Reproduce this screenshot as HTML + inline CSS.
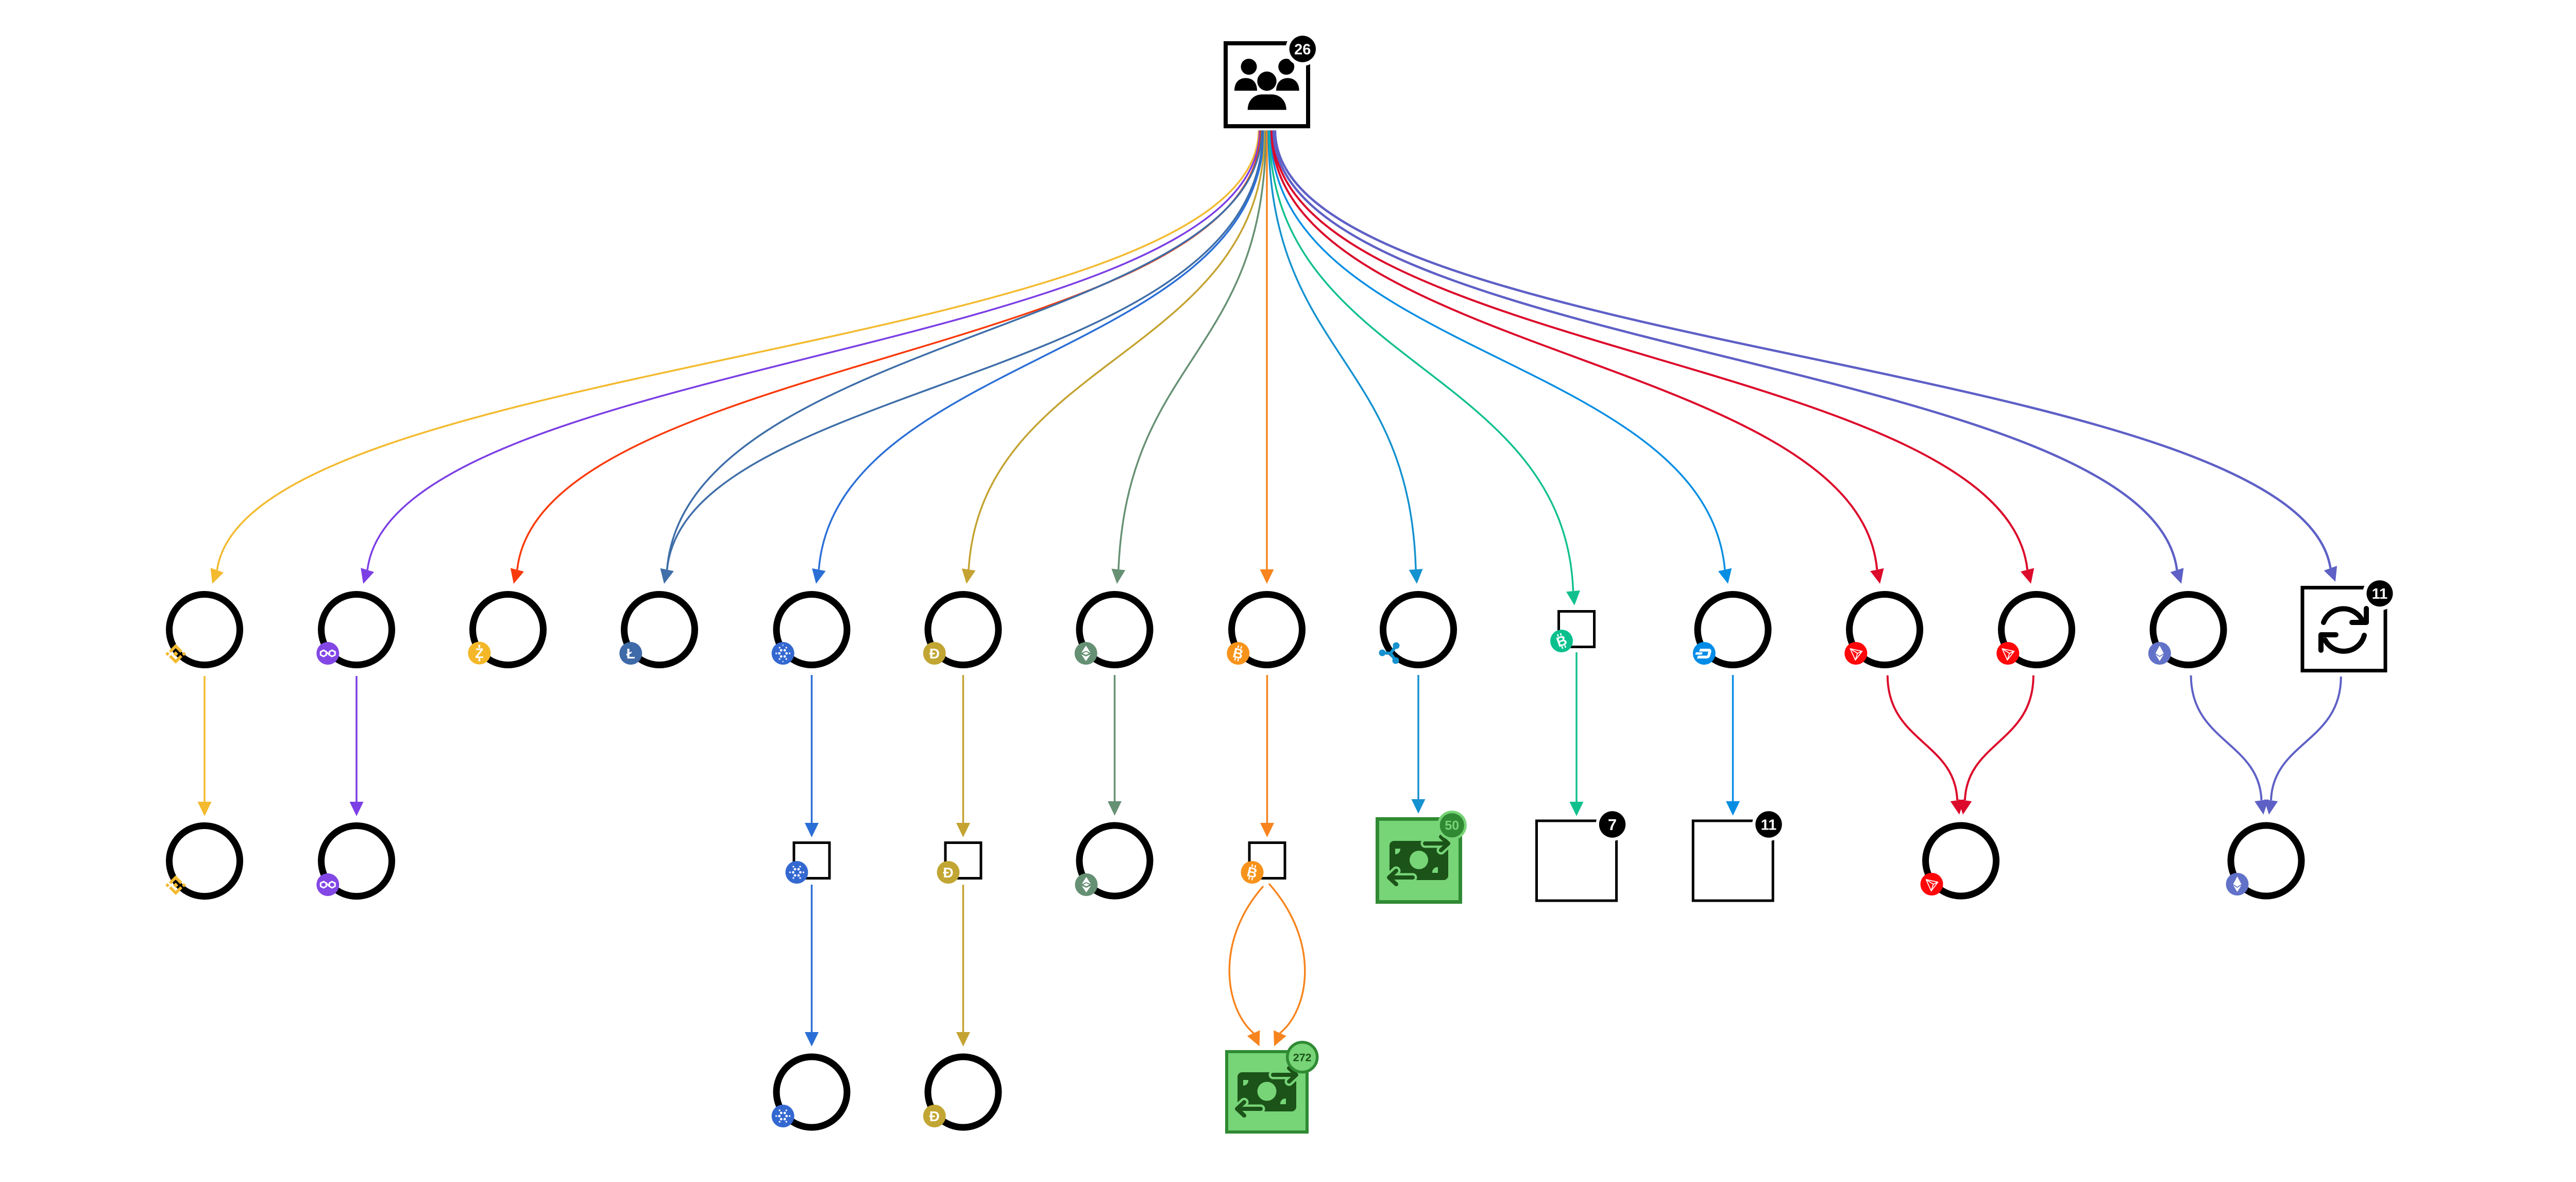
<!DOCTYPE html>
<html><head><meta charset="utf-8"><style>
html,body{margin:0;padding:0;background:#fff;overflow:hidden}
svg{display:block}
text{font-family:"Liberation Sans",Arial,sans-serif;font-weight:bold}
</style></head><body>
<svg width="5134" height="2294" viewBox="0 0 5134 2294" xmlns="http://www.w3.org/2000/svg">
<rect width="5134" height="2294" fill="#fff"/>

<!-- ===== Top fan-out edges ===== -->
<g fill="none" stroke-width="3.5">
<path d="M2443,253 C2443,690 481,690 421.3,1106.6" stroke="#F3BA2F"/>
<path d="M2445,253 C2445,690 765,690 713.1,1106.2" stroke="#7B3FE4"/>
<path d="M2447,253 C2447,690 1048,690 1003.9,1105.9" stroke="#F93A0A"/>
<path d="M2449,253 C2449,640 1331,650 1294.7,1105.6" stroke="#3F6EA8"/>
<path d="M2451,253 C2451,745 1331,735 1294.7,1105.6" stroke="#3F6EA8"/>
<path d="M2453,253 C2453,690 1623,690 1589.3,1105.5" stroke="#2B6FD6"/>
<path d="M2455,253 C2455,690 1906,690 1880.1,1105.3" stroke="#C4A332"/>
<path d="M2457,253 C2457,690 2189,690 2170.9,1105.1" stroke="#679174"/>
<path d="M2459,253 V1105" stroke="#F7841E"/>
<path d="M2462,253 C2462,690 2736,690 2748.1,1105.1" stroke="#1592CF"/>
<path d="M2464,253 C2464,710 3037,710 3053.5,1147.1" stroke="#12C08E"/>
<path d="M2466,253 C2466,690 3310,690 3348,1105.6" stroke="#078EE3"/>
<path d="M2468,253 C2468,690 3607,690 3643.3,1105.6" stroke="#DC0A2B" stroke-width="4"/>
<path d="M2470,253 C2470,690 3891,690 3935.1,1105.9" stroke="#DC0A2B" stroke-width="4"/>
<path d="M2472,253 C2472,690 4172,690 4225.5,1106.3" stroke="#5E60C6" stroke-width="4.5"/>
<path d="M2475,253 C2475,690 4458,690 4523.4,1102.7" stroke="#5E60C6" stroke-width="4.5"/>
</g>
<g>
<polygon points="-13.5,-28 13.5,-28 0,0" fill="#F3BA2F" transform="translate(412,1133) rotate(19.5)"/>
<polygon points="-13.5,-28 13.5,-28 0,0" fill="#7B3FE4" transform="translate(705,1133) rotate(16.9)"/>
<polygon points="-13.5,-28 13.5,-28 0,0" fill="#F93A0A" transform="translate(997,1133) rotate(14.3)"/>
<polygon points="-13.5,-28 13.5,-28 0,0" fill="#3F6EA8" transform="translate(1289,1133) rotate(11.7)"/>
<polygon points="-13.5,-28 13.5,-28 0,0" fill="#2B6FD6" transform="translate(1584,1133) rotate(11)"/>
<polygon points="-13.5,-28 13.5,-28 0,0" fill="#C4A332" transform="translate(1876,1133) rotate(8.5)"/>
<polygon points="-13.5,-28 13.5,-28 0,0" fill="#679174" transform="translate(2168,1133) rotate(5.9)"/>
<polygon points="-13.5,-28 13.5,-28 0,0" fill="#F7841E" transform="translate(2459,1133)"/>
<polygon points="-13.5,-28 13.5,-28 0,0" fill="#1592CF" transform="translate(2750,1133) rotate(-3.9)"/>
<polygon points="-13.5,-28 13.5,-28 0,0" fill="#12C08E" transform="translate(3056,1175) rotate(-5.2)"/>
<polygon points="-13.5,-28 13.5,-28 0,0" fill="#078EE3" transform="translate(3354,1133) rotate(-12.4)"/>
<polygon points="-13.5,-28 13.5,-28 0,0" fill="#DC0A2B" transform="translate(3649,1133) rotate(-11.7)"/>
<polygon points="-13.5,-28 13.5,-28 0,0" fill="#DC0A2B" transform="translate(3942,1133) rotate(-14.3)"/>
<polygon points="-13.5,-28 13.5,-28 0,0" fill="#5E60C6" transform="translate(4234,1133) rotate(-17.6)"/>
<polygon points="-13.5,-28 13.5,-28 0,0" fill="#5E60C6" transform="translate(4533,1129) rotate(-20)"/>
</g>

<!-- ===== Lower edges ===== -->
<g fill="none" stroke-width="3.5">
<path d="M397,1312 V1557" stroke="#F3BA2F"/>
<path d="M692,1312 V1557" stroke="#7B3FE4"/>
<path d="M1575.5,1310 V1598" stroke="#2B6FD6"/>
<path d="M1575.5,1717 V2004" stroke="#2B6FD6"/>
<path d="M1869.5,1310 V1598" stroke="#C4A332"/>
<path d="M1869.5,1717 V2004" stroke="#C4A332"/>
<path d="M2163.5,1310 V1556" stroke="#679174"/>
<path d="M2459.5,1310 V1598" stroke="#F7841E"/>
<path d="M2753,1310 V1552" stroke="#1592CF"/>
<path d="M3060,1266 V1557" stroke="#12C08E"/>
<path d="M3363.5,1310 V1556" stroke="#078EE3"/>
<path d="M2452,1720 C2355,1830 2380,1960 2433.1,2005" stroke="#F7841E"/>
<path d="M2463,1715 C2565,1830 2540,1960 2484.4,2005" stroke="#F7841E"/>
<path d="M3663.7,1310.7 C3664,1440 3795,1440 3799,1553" stroke="#DC0A2B" stroke-width="4"/>
<path d="M3946.8,1310.7 C3947,1440 3818,1440 3813.9,1553" stroke="#DC0A2B" stroke-width="4"/>
<path d="M4252.6,1310.7 C4253,1440 4385,1440 4389.5,1553" stroke="#5E60C6" stroke-width="4"/>
<path d="M4543.8,1313 C4544,1440 4412,1440 4408,1553" stroke="#5E60C6" stroke-width="4"/>
</g>
<g>
<polygon points="-13.5,-28 13.5,-28 0,0" fill="#F3BA2F" transform="translate(397,1584)"/>
<polygon points="-13.5,-28 13.5,-28 0,0" fill="#7B3FE4" transform="translate(692,1584)"/>
<polygon points="-13.5,-28 13.5,-28 0,0" fill="#2B6FD6" transform="translate(1575.5,1625)"/>
<polygon points="-13.5,-28 13.5,-28 0,0" fill="#2B6FD6" transform="translate(1575.5,2031)"/>
<polygon points="-13.5,-28 13.5,-28 0,0" fill="#C4A332" transform="translate(1869.5,1625)"/>
<polygon points="-13.5,-28 13.5,-28 0,0" fill="#C4A332" transform="translate(1869.5,2031)"/>
<polygon points="-13.5,-28 13.5,-28 0,0" fill="#679174" transform="translate(2163.5,1583)"/>
<polygon points="-13.5,-28 13.5,-28 0,0" fill="#F7841E" transform="translate(2459.5,1625)"/>
<polygon points="-13.5,-28 13.5,-28 0,0" fill="#1592CF" transform="translate(2753,1579)"/>
<polygon points="-13.5,-28 13.5,-28 0,0" fill="#12C08E" transform="translate(3060,1584)"/>
<polygon points="-13.5,-28 13.5,-28 0,0" fill="#078EE3" transform="translate(3363.5,1583)"/>
<polygon points="-13.5,-28 13.5,-28 0,0" fill="#F7841E" transform="translate(2444.5,2030.6) rotate(-24)"/>
<polygon points="-13.5,-28 13.5,-28 0,0" fill="#F7841E" transform="translate(2473,2030.6) rotate(24)"/>
<polygon points="-13.5,-28 13.5,-28 0,0" fill="#DC0A2B" transform="translate(3803,1581) rotate(-8)"/>
<polygon points="-13.5,-28 13.5,-28 0,0" fill="#DC0A2B" transform="translate(3810,1581) rotate(8)"/>
<polygon points="-13.5,-28 13.5,-28 0,0" fill="#5E60C6" transform="translate(4393.4,1581) rotate(-8)"/>
<polygon points="-13.5,-28 13.5,-28 0,0" fill="#5E60C6" transform="translate(4404,1581) rotate(8)"/>
</g>

<!-- ===== Top node ===== -->
<rect x="2379" y="84" width="160" height="161" fill="#fff" stroke="#000" stroke-width="8"/>
<g fill="#000">
<circle cx="2424" cy="129.5" r="15.5"/>
<path d="M2396,176 C2396,161 2404,151.5 2418,151.5 C2432,151.5 2440,161 2440,176 Z"/>
<circle cx="2496.7" cy="129.5" r="15.5"/>
<path d="M2477,176 C2477,161 2486,151.5 2499.5,151.5 C2513,151.5 2521.7,161 2521.7,176 Z"/>
<circle cx="2459" cy="157.5" r="18.7" stroke="#fff" stroke-width="5" paint-order="stroke"/>
<path d="M2421.7,213.3 C2421.7,196 2433,183.3 2450,183.3 H2468 C2485,183.3 2496.7,196 2496.7,213.3 Z" stroke="#fff" stroke-width="5" paint-order="stroke"/>
</g>
<circle cx="2528.3" cy="95" r="33" fill="#fff"/>
<circle cx="2528.3" cy="95" r="25.7" fill="#000"/>
<text x="2528.3" y="105.5" font-size="29" fill="#fff" text-anchor="middle">26</text>

<!-- ===== Circle nodes ===== -->
<g fill="none" stroke="#000" stroke-width="13">
<circle cx="397" cy="1222" r="68.5"/>
<circle cx="692" cy="1222" r="68.5"/>
<circle cx="986" cy="1222" r="68.5"/>
<circle cx="1280" cy="1222" r="68.5"/>
<circle cx="1575.5" cy="1222" r="68.5"/>
<circle cx="1869.5" cy="1222" r="68.5"/>
<circle cx="2163.5" cy="1222" r="68.5"/>
<circle cx="2459" cy="1222" r="68.5"/>
<circle cx="2753" cy="1222" r="68.5"/>
<circle cx="3363.5" cy="1222" r="68.5"/>
<circle cx="3658" cy="1222" r="68.5"/>
<circle cx="3953" cy="1222" r="68.5"/>
<circle cx="4247.5" cy="1222" r="68.5"/>
<circle cx="397" cy="1671" r="68.5"/>
<circle cx="692" cy="1671" r="68.5"/>
<circle cx="2163.5" cy="1670.5" r="68.5"/>
<circle cx="3806" cy="1670.5" r="68.5"/>
<circle cx="4398.5" cy="1670.5" r="68.5"/>
<circle cx="1575.5" cy="2119.5" r="68.5"/>
<circle cx="1869.5" cy="2119.5" r="68.5"/>
</g>

<!-- ===== Small squares ===== -->
<g fill="#fff" stroke="#000" stroke-width="5">
<rect x="3025.5" y="1186.5" width="69" height="69"/>
<rect x="1541" y="1635.5" width="69" height="69"/>
<rect x="1835" y="1635.5" width="69" height="69"/>
<rect x="2425" y="1635.5" width="69" height="69"/>
</g>

<!-- ===== Big plain boxes with badges ===== -->
<g fill="#fff" stroke="#000" stroke-width="5">
<rect x="2982.5" y="1593" width="155" height="155"/>
<rect x="3286.2" y="1593" width="155" height="155"/>
</g>
<circle cx="3129.5" cy="1600" r="32" fill="#fff"/>
<circle cx="3129.5" cy="1600" r="25.7" fill="#000"/>
<text x="3129.5" y="1611" font-size="31" fill="#fff" text-anchor="middle">7</text>
<circle cx="3433" cy="1600" r="32" fill="#fff"/>
<circle cx="3433" cy="1600" r="25.7" fill="#000"/>
<text x="3433" y="1610.5" font-size="29" fill="#fff" text-anchor="middle">11</text>

<!-- ===== Sync box ===== -->
<rect x="4469" y="1140.5" width="161" height="161" fill="#fff" stroke="#000" stroke-width="7"/>
<g fill="none" stroke="#000" stroke-width="10" stroke-linecap="round" stroke-linejoin="round">
<path d="M4510,1208 A41,41 0 0 1 4585,1204"/>
<path d="M4593,1181 V1208 H4565"/>
<path d="M4589,1233 A41,41 0 0 1 4513,1242"/>
<path d="M4505,1262 V1232 H4534"/>
</g>
<circle cx="4619" cy="1151.7" r="33" fill="#fff"/>
<circle cx="4619" cy="1151.7" r="25.5" fill="#000"/>
<text x="4619" y="1162" font-size="29" fill="#fff" text-anchor="middle">11</text>

<!-- ===== Money boxes ===== -->
<rect x="2673.5" y="1589.5" width="161" height="161" fill="#77D477" stroke="#2F8A33" stroke-width="7"/>
<g transform="translate(2754,1670)">
<rect x="-57" y="-38" width="114" height="76" rx="9" fill="#1B5318"/>
<circle cx="0" cy="-1" r="18" fill="#77D477"/>
<path d="M-46,-23 h10 a10,10 0 0 1 -10,11 z" fill="#77D477"/>
<path d="M37,24 h-11 a10,10 0 0 1 11,-11 z" fill="#77D477"/>
<g fill="none" stroke-linecap="round" stroke-linejoin="round">
<path d="M12,-33 H56 M43,-46 L57,-33 L43,-20" stroke="#77D477" stroke-width="17"/>
<path d="M12,-33 H56 M43,-46 L57,-33 L43,-20" stroke="#1B5318" stroke-width="8"/>
<path d="M-12,33 H-57 M-44,20 L-58,33 L-44,46" stroke="#77D477" stroke-width="17"/>
<path d="M-12,33 H-57 M-44,20 L-58,33 L-44,46" stroke="#1B5318" stroke-width="8"/>
</g>
</g>
<circle cx="2818.3" cy="1601.7" r="26" fill="#2F8A33" stroke="#77D477" stroke-width="5"/>
<text x="2818.3" y="1610.5" font-size="25" fill="#77D477" text-anchor="middle">50</text>

<rect x="2381" y="2041" width="156" height="156" fill="#77D477" stroke="#2F8A33" stroke-width="6"/>
<g transform="translate(2459,2119)">
<rect x="-57" y="-38" width="114" height="76" rx="9" fill="#1B5318"/>
<circle cx="0" cy="-1" r="18.5" fill="#77D477"/>
<path d="M-46,-23 h10 a10,10 0 0 1 -10,11 z" fill="#77D477"/>
<path d="M37,24 h-11 a10,10 0 0 1 11,-11 z" fill="#77D477"/>
<g fill="none" stroke-linecap="round" stroke-linejoin="round">
<path d="M12,-33 H56 M43,-46 L57,-33 L43,-20" stroke="#77D477" stroke-width="17"/>
<path d="M12,-33 H56 M43,-46 L57,-33 L43,-20" stroke="#1B5318" stroke-width="8"/>
<path d="M-12,33 H-57 M-44,20 L-58,33 L-44,46" stroke="#77D477" stroke-width="17"/>
<path d="M-12,33 H-57 M-44,20 L-58,33 L-44,46" stroke="#1B5318" stroke-width="8"/>
</g>
</g>
<circle cx="2527.7" cy="2051.7" r="29" fill="#77D477" stroke="#2F8A33" stroke-width="5.5"/>
<text x="2527.7" y="2059.5" font-size="21.5" fill="#1B5318" text-anchor="middle">272</text>

<!-- ===== Coin icons ===== -->
<!-- BNB -->
<g transform="translate(341,1269)" fill="#F3BA2F">
<path d="M0,-19 L13,-6 L9,-2 L0,-11 L-9,-2 L-13,-6Z"/><path d="M0,19 L13,6 L9,2 L0,11 L-9,2 L-13,6Z"/>
<path d="M-20,0 L-16,-4 L-12,0 L-16,4Z"/><path d="M20,0 L16,-4 L12,0 L16,4Z"/><path d="M0,-5 L5,0 L0,5 L-5,0Z"/>
</g>
<g transform="translate(341,1718)" fill="#F3BA2F">
<path d="M0,-19 L13,-6 L9,-2 L0,-11 L-9,-2 L-13,-6Z"/><path d="M0,19 L13,6 L9,2 L0,11 L-9,2 L-13,6Z"/>
<path d="M-20,0 L-16,-4 L-12,0 L-16,4Z"/><path d="M20,0 L16,-4 L12,0 L16,4Z"/><path d="M0,-5 L5,0 L0,5 L-5,0Z"/>
</g>
<!-- Polygon -->
<g transform="translate(636.3,1268)"><circle r="22" fill="#8247E5"/><path d="M-3,-3 L-8,-6 L-14,-3 V3 L-8,6 L-3,3 V-3 L3,3 V-3 L8,-6 L14,-3 V3 L8,6 L3,3" fill="none" stroke="#fff" stroke-width="3" stroke-linejoin="round"/></g>
<g transform="translate(636.3,1717)"><circle r="22" fill="#8247E5"/><path d="M-3,-3 L-8,-6 L-14,-3 V3 L-8,6 L-3,3 V-3 L3,3 V-3 L8,-6 L14,-3 V3 L8,6 L3,3" fill="none" stroke="#fff" stroke-width="3" stroke-linejoin="round"/></g>
<!-- Zcash -->
<g transform="translate(930.4,1267.5)"><circle r="22" fill="#F4B728"/><text x="0" y="9.5" font-size="27" fill="#fff" text-anchor="middle">Z</text><path d="M0,-16 V-10 M0,10 V16" stroke="#fff" stroke-width="3.5"/></g>
<!-- Litecoin -->
<g transform="translate(1224.3,1268)"><circle r="22" fill="#3F6AA8"/><text x="0" y="10" font-size="28" fill="#fff" text-anchor="middle">Ł</text></g>
<!-- Cardano -->
<g transform="translate(1519.7,1268)"><circle r="22" fill="#3468D1"/><g fill="#fff"><circle cx="7" cy="0" r="2.4"/><circle cx="-7" cy="0" r="2.4"/><circle cx="3.5" cy="6" r="2.4"/><circle cx="-3.5" cy="6" r="2.4"/><circle cx="3.5" cy="-6" r="2.4"/><circle cx="-3.5" cy="-6" r="2.4"/><circle cx="13" cy="0" r="1.6"/><circle cx="-13" cy="0" r="1.6"/><circle cx="6.5" cy="11" r="1.6"/><circle cx="-6.5" cy="11" r="1.6"/><circle cx="6.5" cy="-11" r="1.6"/><circle cx="-6.5" cy="-11" r="1.6"/><circle cx="0" cy="-16" r="1.2"/><circle cx="0" cy="16" r="1.2"/></g></g>
<g transform="translate(1546.5,1693)"><circle r="22" fill="#3468D1"/><g fill="#fff"><circle cx="7" cy="0" r="2.4"/><circle cx="-7" cy="0" r="2.4"/><circle cx="3.5" cy="6" r="2.4"/><circle cx="-3.5" cy="6" r="2.4"/><circle cx="3.5" cy="-6" r="2.4"/><circle cx="-3.5" cy="-6" r="2.4"/><circle cx="13" cy="0" r="1.6"/><circle cx="-13" cy="0" r="1.6"/><circle cx="6.5" cy="11" r="1.6"/><circle cx="-6.5" cy="11" r="1.6"/><circle cx="6.5" cy="-11" r="1.6"/><circle cx="-6.5" cy="-11" r="1.6"/></g></g>
<g transform="translate(1519.7,2166)"><circle r="22" fill="#3468D1"/><g fill="#fff"><circle cx="7" cy="0" r="2.4"/><circle cx="-7" cy="0" r="2.4"/><circle cx="3.5" cy="6" r="2.4"/><circle cx="-3.5" cy="6" r="2.4"/><circle cx="3.5" cy="-6" r="2.4"/><circle cx="-3.5" cy="-6" r="2.4"/><circle cx="13" cy="0" r="1.6"/><circle cx="-13" cy="0" r="1.6"/><circle cx="6.5" cy="11" r="1.6"/><circle cx="-6.5" cy="11" r="1.6"/><circle cx="6.5" cy="-11" r="1.6"/><circle cx="-6.5" cy="-11" r="1.6"/></g></g>
<!-- Doge -->
<g transform="translate(1813.8,1268)"><circle r="22" fill="#C2A633"/><text x="0" y="10" font-size="28" fill="#fff" text-anchor="middle">Ð</text></g>
<g transform="translate(1840.5,1693)"><circle r="22" fill="#C2A633"/><text x="0" y="10" font-size="28" fill="#fff" text-anchor="middle">Ð</text></g>
<g transform="translate(1813.8,2166)"><circle r="22" fill="#C2A633"/><text x="0" y="10" font-size="28" fill="#fff" text-anchor="middle">Ð</text></g>
<!-- ETC -->
<g transform="translate(2107.8,1268)"><circle r="22" fill="#669073"/><path d="M0,-15 L9,-1 L0,-5 L-9,-1Z M-9,2 L0,6 L9,2 L0,15Z M-6,0 L0,-3 L6,0 L0,3Z" fill="#fff"/></g>
<g transform="translate(2108.5,1717)"><circle r="22" fill="#669073"/><path d="M0,-15 L9,-1 L0,-5 L-9,-1Z M-9,2 L0,6 L9,2 L0,15Z M-6,0 L0,-3 L6,0 L0,3Z" fill="#fff"/></g>
<!-- BTC -->
<g transform="translate(2403.3,1268)"><circle r="22" fill="#F7931A"/><g transform="rotate(14)"><text x="0" y="9.5" font-size="27" fill="#fff" text-anchor="middle">B</text><path d="M-3,-15 V-10 M3,-15 V-10 M-3,10 V15 M3,10 V15" stroke="#fff" stroke-width="2.5"/></g></g>
<g transform="translate(2430.5,1693)"><circle r="22" fill="#F7931A"/><g transform="rotate(14)"><text x="0" y="9.5" font-size="27" fill="#fff" text-anchor="middle">B</text><path d="M-3,-15 V-10 M3,-15 V-10 M-3,10 V15 M3,10 V15" stroke="#fff" stroke-width="2.5"/></g></g>
<!-- XRP -->
<g transform="translate(2699,1268)" fill="#1592CF"><circle cx="11" cy="-15" r="6.5"/><circle cx="-16" cy="-1" r="6.5"/><circle cx="10" cy="14" r="6.5"/><path d="M11,-15 L0,0 L10,14 M0,0 L-16,-1" stroke="#1592CF" stroke-width="6" fill="none"/></g>
<!-- BCH -->
<g transform="translate(3031,1244)"><circle r="22" fill="#0AC18E"/><g transform="rotate(-20)"><text x="0" y="9.5" font-size="27" fill="#fff" text-anchor="middle">B</text><path d="M-3,-15 V-10 M3,-15 V-10 M-3,10 V15 M3,10 V15" stroke="#fff" stroke-width="2.5"/></g></g>
<!-- Dash -->
<g transform="translate(3307.8,1268)"><circle r="22" fill="#008CE7"/><path d="M-8,-9 H9 C13,-9 14.5,-6 13.5,-2 L11.5,5 C10.5,9 7.5,10 3,10 H-14 L-12.3,4.5 H6 L8,-3.5 H-10Z M-16,-2 H-3 L-4.5,2.5 H-17.5Z" fill="#fff"/></g>
<!-- Tron -->
<g transform="translate(3602.3,1268)"><circle r="22" fill="#FF060A"/><path d="M-11,-9 L12,-4 L-1,13 Z M-11,-9 L3,0 L12,-4 M3,0 L-1,13" fill="none" stroke="#fff" stroke-width="1.8" stroke-linejoin="round"/></g>
<g transform="translate(3897.3,1268)"><circle r="22" fill="#FF060A"/><path d="M-11,-9 L12,-4 L-1,13 Z M-11,-9 L3,0 L12,-4 M3,0 L-1,13" fill="none" stroke="#fff" stroke-width="1.8" stroke-linejoin="round"/></g>
<g transform="translate(3749.5,1716)"><circle r="22" fill="#FF060A"/><path d="M-11,-9 L12,-4 L-1,13 Z M-11,-9 L3,0 L12,-4 M3,0 L-1,13" fill="none" stroke="#fff" stroke-width="1.8" stroke-linejoin="round"/></g>
<!-- ETH -->
<g transform="translate(4191.8,1268)"><circle r="22" fill="#6272C8"/><path d="M0,-15 L8,0 L0,5 L-8,0Z M0,7 L8,2 L0,15 L-8,2Z" fill="#fff"/></g>
<g transform="translate(4342.5,1716)"><circle r="22" fill="#6272C8"/><path d="M0,-15 L8,0 L0,5 L-8,0Z M0,7 L8,2 L0,15 L-8,2Z" fill="#fff"/></g>
</svg>
</body></html>
